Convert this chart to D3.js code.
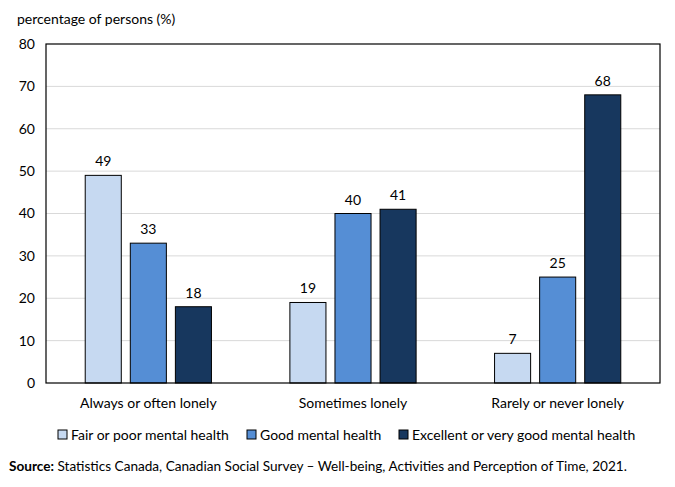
<html>
<head>
<script src="https://cdn.jsdelivr.net/npm/d3@7"></script>
<style>
  body { margin: 0; background: #fff; }
  text { font-family: "Lato", "Open Sans", sans-serif; fill: #000; }
</style>
</head>
<body>
<script>
var categories = ["Always or often lonely", "Sometimes lonely", "Rarely or never lonely"];
var seriesNames = ["Fair or poor mental health", "Good mental health", "Excellent or very good mental health"];
var fairPoor = [49, 19, 7];
var good = [33, 40, 25];
var excellent = [18, 41, 68];
var yTicks = [0, 10, 20, 30, 40, 50, 60, 70, 80];
var colors = ["#c6d9f1", "#558ed5", "#17375e"];

var w = 675, h = 487;
var mLeft = 46, mRight = 660, mTop = 44, mBottom = 383;

var series = [fairPoor, good, excellent];

var svg = d3.select("body").append("svg")
    .attr("width", w)
    .attr("height", h);

var x0 = d3.scaleBand().domain(categories).range([mLeft, mRight]);
var x1 = d3.scaleBand().domain(d3.range(series.length))
    .range([0, x0.bandwidth()])
    .paddingInner(0.2)
    .paddingOuter(0.87);
var y = d3.scaleLinear().domain([0, 80]).range([mBottom, mTop]);

// gridlines
svg.append("g")
    .selectAll("line")
    .data(yTicks.filter(function (d) { return d > 0 && d < 80; }))
    .enter()
    .append("line")
    .attr("x1", mLeft).attr("x2", mRight)
    .attr("y1", function (d) { return y(d); })
    .attr("y2", function (d) { return y(d); })
    .attr("stroke", "#d9d9d9")
    .attr("stroke-width", 1);

// y axis labels
var yAxis = d3.axisLeft(y).tickValues(yTicks).tickSize(0).tickPadding(11);
svg.append("g")
    .attr("transform", "translate(" + mLeft + ",0)")
    .call(yAxis)
    .call(function (g) { g.select(".domain").remove(); })
    .selectAll("text")
    .style("font-size", "14px")
    .style("font-family", "Lato, 'Open Sans', sans-serif");

// bars
var groups = svg.append("g")
    .selectAll("g")
    .data(categories)
    .enter()
    .append("g")
    .attr("transform", function (d) { return "translate(" + x0(d) + ",0)"; });

groups.selectAll("rect")
    .data(function (d, i) { return series.map(function (s, j) { return { s: j, v: s[i] }; }); })
    .enter()
    .append("rect")
    .attr("x", function (d) { return x1(d.s); })
    .attr("width", x1.bandwidth())
    .attr("y", function (d) { return y(d.v); })
    .attr("height", function (d) { return y(0) - y(d.v); })
    .attr("fill", function (d) { return colors[d.s]; })
    .attr("stroke", "#000")
    .attr("stroke-width", 1);

groups.selectAll("text.val")
    .data(function (d, i) { return series.map(function (s, j) { return { s: j, v: s[i] }; }); })
    .enter()
    .append("text")
    .attr("class", "val")
    .attr("x", function (d) { return x1(d.s) + x1.bandwidth() / 2; })
    .attr("y", function (d) { return y(d.v) - 9; })
    .attr("text-anchor", "middle")
    .style("font-size", "14px")
    .text(function (d) { return d.v; });

// frame
svg.append("rect")
    .attr("x", mLeft).attr("y", mTop)
    .attr("width", mRight - mLeft).attr("height", mBottom - mTop)
    .attr("fill", "none")
    .attr("stroke", "#000")
    .attr("stroke-width", 1.2);

// category labels
svg.append("g")
    .selectAll("text")
    .data(categories)
    .enter()
    .append("text")
    .attr("x", function (d) { return x0(d) + x0.bandwidth() / 2; })
    .attr("y", 408)
    .attr("text-anchor", "middle")
    .style("font-size", "14px")
    .text(function (d) { return d; });

// title
svg.append("text")
    .attr("x", 17).attr("y", 24)
    .style("font-size", "14px")
    .text("percentage of persons (%)");

// legend
var legendX = [58, 247, 399];
var legend = svg.append("g")
    .selectAll("g")
    .data(seriesNames)
    .enter()
    .append("g")
    .attr("transform", function (d, i) { return "translate(" + legendX[i] + ",430)"; });
legend.append("rect")
    .attr("width", 9).attr("height", 9)
    .attr("fill", function (d, i) { return colors[i]; })
    .attr("stroke", "#000");
legend.append("text")
    .attr("x", 13).attr("y", 10)
    .style("font-size", "14px")
    .text(function (d) { return d; });

// source
var src = svg.append("text")
    .attr("x", 9).attr("y", 471)
    .style("font-size", "13.6px");
src.append("tspan").style("font-weight", "bold").text("Source:");
src.append("tspan").text(" Statistics Canada, Canadian Social Survey \u2013 Well-being, Activities and Perception of Time, 2021.");
</script>
</body>
</html>
